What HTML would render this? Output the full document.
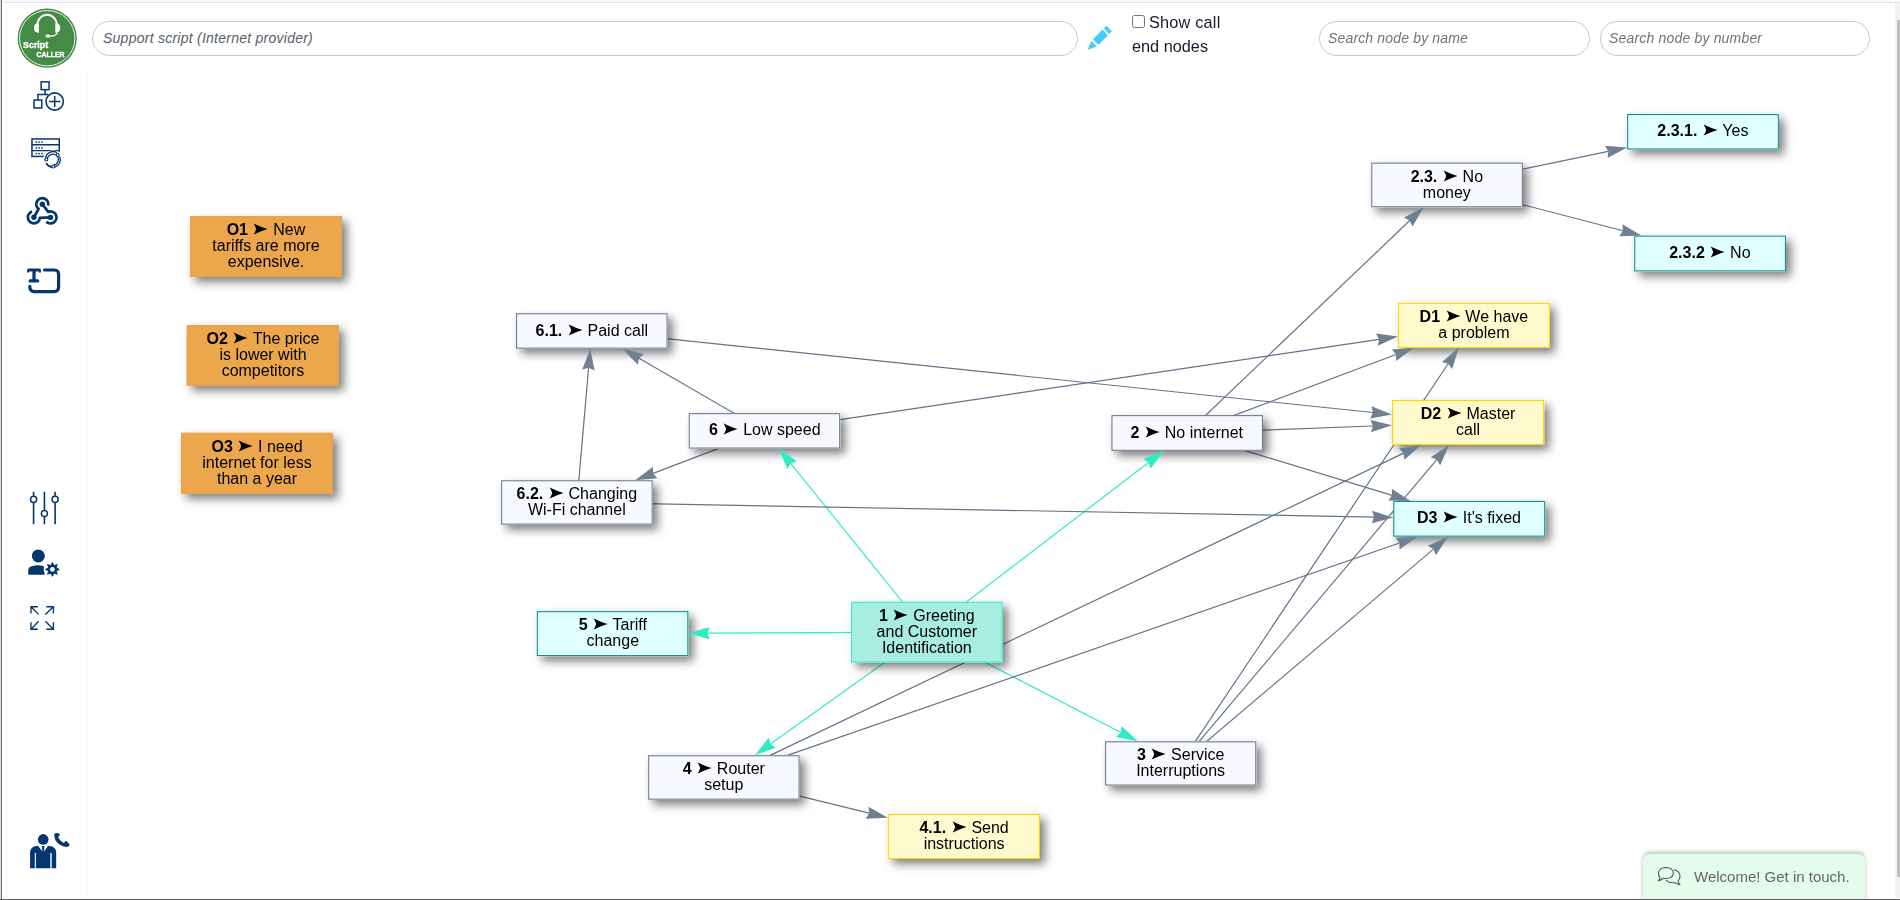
<!DOCTYPE html>
<html lang="en">
<head>
<meta charset="utf-8">
<title>Script Caller</title>
<style>
html,body{margin:0;padding:0;width:1900px;height:900px;overflow:hidden;background:#fff;font-family:"Liberation Sans",sans-serif;}
#frame{position:absolute;left:0;top:0;width:1900px;height:900px;overflow:hidden;background:#fff;}
#net{position:absolute;left:0;top:0;}
.lb{position:absolute;will-change:transform;text-align:center;font-size:16px;line-height:16px;color:#000;white-space:nowrap;font-family:"Liberation Sans",sans-serif;}
.lb b{font-weight:bold;}
.lb svg.g{display:inline-block;vertical-align:baseline;margin:0;position:relative;top:0.45px;left:0px;}
.lb svg.g path{fill:#000;}
/* window chrome */
#bt{position:absolute;left:0;top:0;width:1900px;height:2px;background:#fafaff;}
#bt2{position:absolute;left:0;top:2px;width:1900px;height:1px;background:#e1e3ef;}
#bl{position:absolute;left:0;top:0;width:2px;height:900px;background:linear-gradient(90deg,#dcdcde 0,#dcdcde 1px,#6e6e6e 1px,#6e6e6e 2px);}
#bb{position:absolute;left:0;top:899px;width:1900px;height:1px;background:#5e5e5e;}
#sbt{position:absolute;left:1895px;top:3px;width:5px;height:895px;background:#f1f1f1;}
#sbh{position:absolute;left:1897px;top:20px;width:3px;height:857px;background:#c1c1c1;}
#sideline{position:absolute;left:86px;top:70px;width:1px;height:828px;background:#f3f1f3;}
.inp{position:absolute;box-sizing:border-box;height:35px;border:1px solid #c9c9c9;border-radius:18px;background:#fff;font-style:italic;font-size:14px;color:#6c757d;line-height:33px;padding-left:8px;white-space:nowrap;overflow:hidden;}
#chk{position:absolute;left:1132px;top:15px;width:13px;height:13px;box-sizing:border-box;border:1px solid #767676;border-radius:2.5px;background:#fff;}
#chkt{position:absolute;left:1132px;top:10px;font-size:16.3px;line-height:24px;color:#1a1a2e;white-space:nowrap;}
#chat{position:absolute;left:1643px;top:852px;width:222px;height:60px;background:#e3fcec;border-radius:7px;box-shadow:0 0 4px rgba(0,0,0,.25);border-top:2px solid #c0ddcd;box-sizing:border-box;}
#chat span{will-change:transform;position:absolute;left:51px;top:14px;font-size:15px;line-height:18px;color:#666;white-space:nowrap;}
.ic{position:absolute;will-change:transform;}
</style>
</head>
<body>
<div id="frame">
<svg id="net" width="1900" height="900" viewBox="0 0 1900 900">
<defs><filter id="sh" x="-20%" y="-40%" width="150%" height="200%"><feDropShadow dx="5" dy="5" stdDeviation="5" flood-color="#000" flood-opacity="0.5"/></filter></defs>
<line x1="926.85" y1="632.15" x2="790.81" y2="463.52" stroke="#31ecc3" stroke-width="1.20"/>
<line x1="926.85" y1="632.15" x2="1148.58" y2="462.50" stroke="#31ecc3" stroke-width="1.20"/>
<line x1="926.85" y1="632.15" x2="707.57" y2="633.16" stroke="#31ecc3" stroke-width="1.20"/>
<line x1="926.85" y1="632.15" x2="770.52" y2="744.04" stroke="#31ecc3" stroke-width="1.20"/>
<line x1="926.85" y1="632.15" x2="1120.81" y2="732.49" stroke="#31ecc3" stroke-width="1.20"/>
<line x1="764.45" y1="430.85" x2="639.07" y2="358.30" stroke="#63738a" stroke-width="1.20"/>
<line x1="764.45" y1="430.85" x2="653.09" y2="473.36" stroke="#63738a" stroke-width="1.20"/>
<line x1="576.90" y1="502.45" x2="588.60" y2="367.80" stroke="#63738a" stroke-width="1.20"/>
<line x1="591.80" y1="330.95" x2="1372.93" y2="412.52" stroke="#63738a" stroke-width="1.20"/>
<line x1="764.45" y1="430.85" x2="1379.04" y2="339.41" stroke="#63738a" stroke-width="1.20"/>
<line x1="576.90" y1="502.45" x2="1374.03" y2="517.06" stroke="#63738a" stroke-width="1.20"/>
<line x1="1187.20" y1="432.95" x2="1409.76" y2="220.54" stroke="#63738a" stroke-width="1.20"/>
<line x1="1187.20" y1="432.95" x2="1396.03" y2="354.54" stroke="#63738a" stroke-width="1.20"/>
<line x1="1187.20" y1="432.95" x2="1372.84" y2="426.01" stroke="#63738a" stroke-width="1.20"/>
<line x1="1187.20" y1="432.95" x2="1392.06" y2="495.32" stroke="#63738a" stroke-width="1.20"/>
<line x1="1447.05" y1="184.95" x2="1608.33" y2="151.43" stroke="#63738a" stroke-width="1.20"/>
<line x1="1447.05" y1="184.95" x2="1622.86" y2="230.77" stroke="#63738a" stroke-width="1.20"/>
<line x1="723.85" y1="777.45" x2="869.18" y2="813.20" stroke="#63738a" stroke-width="1.20"/>
<line x1="723.85" y1="777.45" x2="1403.68" y2="453.15" stroke="#63738a" stroke-width="1.20"/>
<line x1="723.85" y1="777.45" x2="1399.51" y2="542.98" stroke="#63738a" stroke-width="1.20"/>
<line x1="1180.65" y1="763.45" x2="1448.18" y2="363.73" stroke="#63738a" stroke-width="1.20"/>
<line x1="1180.65" y1="763.45" x2="1436.77" y2="459.56" stroke="#63738a" stroke-width="1.20"/>
<line x1="1180.65" y1="763.45" x2="1433.47" y2="549.10" stroke="#63738a" stroke-width="1.20"/>
<rect x="190.00" y="216.00" width="152.00" height="61.00" fill="#eca74d" filter="url(#sh)"/>
<rect x="190.55" y="216.55" width="150.90" height="59.90" fill="#eca74d" stroke="#eba348" stroke-width="1.1"/>
<rect x="186.80" y="325.00" width="152.00" height="60.80" fill="#eca74d" filter="url(#sh)"/>
<rect x="187.35" y="325.55" width="150.90" height="59.70" fill="#eca74d" stroke="#eba348" stroke-width="1.1"/>
<rect x="181.00" y="432.80" width="152.00" height="61.00" fill="#eca74d" filter="url(#sh)"/>
<rect x="181.55" y="433.35" width="150.90" height="59.90" fill="#eca74d" stroke="#eba348" stroke-width="1.1"/>
<rect x="516.00" y="313.20" width="151.60" height="35.50" fill="#f8f8ff" filter="url(#sh)"/>
<rect x="516.55" y="313.75" width="150.50" height="34.40" fill="#f8f8ff" stroke="#708090" stroke-width="1.1"/>
<rect x="688.70" y="413.10" width="151.50" height="35.50" fill="#f8f8ff" filter="url(#sh)"/>
<rect x="689.25" y="413.65" width="150.40" height="34.40" fill="#f8f8ff" stroke="#708090" stroke-width="1.1"/>
<rect x="501.10" y="480.20" width="151.60" height="44.50" fill="#f8f8ff" filter="url(#sh)"/>
<rect x="501.65" y="480.75" width="150.50" height="43.40" fill="#f8f8ff" stroke="#708090" stroke-width="1.1"/>
<rect x="1111.40" y="415.05" width="151.60" height="35.80" fill="#f8f8ff" filter="url(#sh)"/>
<rect x="1111.95" y="415.60" width="150.50" height="34.70" fill="#f8f8ff" stroke="#708090" stroke-width="1.1"/>
<rect x="1398.00" y="302.80" width="151.80" height="45.00" fill="#fffacd" filter="url(#sh)"/>
<rect x="1398.55" y="303.35" width="150.70" height="43.90" fill="#fffacd" stroke="#ffd700" stroke-width="1.1"/>
<rect x="1392.00" y="400.00" width="152.10" height="44.90" fill="#fffacd" filter="url(#sh)"/>
<rect x="1392.55" y="400.55" width="151.00" height="43.80" fill="#fffacd" stroke="#ffd700" stroke-width="1.1"/>
<rect x="1393.20" y="500.90" width="152.00" height="35.80" fill="#e0ffff" filter="url(#sh)"/>
<rect x="1393.75" y="501.45" width="150.90" height="34.70" fill="#e0ffff" stroke="#149391" stroke-width="1.1"/>
<rect x="536.80" y="611.10" width="151.60" height="45.00" fill="#e0ffff" filter="url(#sh)"/>
<rect x="537.35" y="611.65" width="150.50" height="43.90" fill="#e0ffff" stroke="#149391" stroke-width="1.1"/>
<rect x="851.00" y="601.80" width="151.70" height="60.70" fill="#a7eee0" filter="url(#sh)"/>
<rect x="851.55" y="602.35" width="150.60" height="59.60" fill="#a7eee0" stroke="#3eecc8" stroke-width="1.1"/>
<rect x="648.10" y="755.20" width="151.50" height="44.50" fill="#f8f8ff" filter="url(#sh)"/>
<rect x="648.65" y="755.75" width="150.40" height="43.40" fill="#f8f8ff" stroke="#708090" stroke-width="1.1"/>
<rect x="1105.00" y="741.30" width="151.30" height="44.30" fill="#f8f8ff" filter="url(#sh)"/>
<rect x="1105.55" y="741.85" width="150.20" height="43.20" fill="#f8f8ff" stroke="#708090" stroke-width="1.1"/>
<rect x="887.80" y="814.00" width="152.20" height="45.00" fill="#fffacd" filter="url(#sh)"/>
<rect x="888.35" y="814.55" width="151.10" height="43.90" fill="#fffacd" stroke="#ffd700" stroke-width="1.1"/>
<rect x="1371.20" y="162.60" width="151.70" height="44.70" fill="#f8f8ff" filter="url(#sh)"/>
<rect x="1371.75" y="163.15" width="150.60" height="43.60" fill="#f8f8ff" stroke="#708090" stroke-width="1.1"/>
<rect x="1627.10" y="114.00" width="151.80" height="35.50" fill="#e0ffff" filter="url(#sh)"/>
<rect x="1627.65" y="114.55" width="150.70" height="34.40" fill="#e0ffff" stroke="#149391" stroke-width="1.1"/>
<rect x="1634.20" y="235.60" width="151.80" height="35.80" fill="#e0ffff" filter="url(#sh)"/>
<rect x="1634.75" y="236.15" width="150.70" height="34.70" fill="#e0ffff" stroke="#149391" stroke-width="1.1"/>
<polygon points="778.77,448.60 796.95,461.30 790.81,463.52 787.34,469.06" fill="#31ecc3"/>
<polygon points="1163.81,450.85 1150.64,468.70 1148.58,462.50 1143.14,458.89" fill="#31ecc3"/>
<polygon points="688.40,633.25 709.67,626.98 707.57,633.16 709.73,639.33" fill="#31ecc3"/>
<polygon points="754.94,755.20 768.66,737.78 770.52,744.04 775.85,747.83" fill="#31ecc3"/>
<polygon points="1137.83,741.30 1116.08,737.00 1120.81,732.49 1121.75,726.03" fill="#31ecc3"/>
<polygon points="622.48,348.70 644.01,354.02 639.07,358.30 637.82,364.71" fill="#708090"/>
<polygon points="635.18,480.20 652.88,466.83 653.09,473.36 657.28,478.37" fill="#708090"/>
<polygon points="590.26,348.70 594.57,370.45 588.60,367.80 582.26,369.39" fill="#708090"/>
<polygon points="1392.00,414.51 1370.17,418.44 1372.93,412.52 1371.46,406.15" fill="#708090"/>
<polygon points="1398.00,336.59 1377.84,345.84 1379.04,339.41 1376.02,333.62" fill="#708090"/>
<polygon points="1393.20,517.41 1371.79,523.19 1374.03,517.06 1372.02,510.84" fill="#708090"/>
<polygon points="1423.63,207.30 1412.49,226.47 1409.76,220.54 1403.96,217.54" fill="#708090"/>
<polygon points="1413.98,347.80 1396.21,361.07 1396.03,354.54 1391.86,349.50" fill="#708090"/>
<polygon points="1392.00,425.29 1370.95,432.26 1372.84,426.01 1370.48,419.92" fill="#708090"/>
<polygon points="1410.40,500.90 1388.23,500.61 1392.06,495.32 1391.82,488.79" fill="#708090"/>
<polygon points="1627.10,147.53 1607.50,157.91 1608.33,151.43 1604.99,145.81" fill="#708090"/>
<polygon points="1641.41,235.60 1619.24,236.21 1622.86,230.77 1622.36,224.25" fill="#708090"/>
<polygon points="887.80,817.78 865.64,818.69 869.18,813.20 868.59,806.69" fill="#708090"/>
<polygon points="1420.99,444.90 1404.42,459.65 1403.68,453.15 1399.10,448.50" fill="#708090"/>
<polygon points="1417.62,536.70 1399.52,549.52 1399.51,542.98 1395.47,537.85" fill="#708090"/>
<polygon points="1458.84,347.80 1452.13,368.94 1448.18,363.73 1441.86,362.07" fill="#708090"/>
<polygon points="1449.13,444.90 1440.13,465.17 1436.77,459.56 1430.68,457.21" fill="#708090"/>
<polygon points="1448.09,536.70 1435.84,555.19 1433.47,549.10 1427.85,545.76" fill="#708090"/>
</svg>
<div class="lb" style="left:170.00px;top:222.10px;width:192.00px"><b>O1</b> <svg class="g" viewBox="0 0 16.4 12" width="16.4" height="12"><path d="M1.6 0.4 Q8.3 3.7 15.5 5.9 Q8.3 8.1 1.6 11.4 Q3.5 8.6 4.2 5.9 Q3.5 3.2 1.6 0.4 Z"/></svg> New<br>tariffs are more<br>expensive.</div>
<div class="lb" style="left:166.80px;top:331.00px;width:192.00px"><b>O2</b> <svg class="g" viewBox="0 0 16.4 12" width="16.4" height="12"><path d="M1.6 0.4 Q8.3 3.7 15.5 5.9 Q8.3 8.1 1.6 11.4 Q3.5 8.6 4.2 5.9 Q3.5 3.2 1.6 0.4 Z"/></svg> The price<br>is lower with<br>competitors</div>
<div class="lb" style="left:161.00px;top:438.90px;width:192.00px"><b>O3</b> <svg class="g" viewBox="0 0 16.4 12" width="16.4" height="12"><path d="M1.6 0.4 Q8.3 3.7 15.5 5.9 Q8.3 8.1 1.6 11.4 Q3.5 8.6 4.2 5.9 Q3.5 3.2 1.6 0.4 Z"/></svg> I need<br>internet for less<br>than a year</div>
<div class="lb" style="left:496.00px;top:322.55px;width:191.60px"><b>6.1.</b> <svg class="g" viewBox="0 0 16.4 12" width="16.4" height="12"><path d="M1.6 0.4 Q8.3 3.7 15.5 5.9 Q8.3 8.1 1.6 11.4 Q3.5 8.6 4.2 5.9 Q3.5 3.2 1.6 0.4 Z"/></svg> Paid call</div>
<div class="lb" style="left:668.70px;top:422.45px;width:191.50px"><b>6</b> <svg class="g" viewBox="0 0 16.4 12" width="16.4" height="12"><path d="M1.6 0.4 Q8.3 3.7 15.5 5.9 Q8.3 8.1 1.6 11.4 Q3.5 8.6 4.2 5.9 Q3.5 3.2 1.6 0.4 Z"/></svg> Low speed</div>
<div class="lb" style="left:481.10px;top:486.05px;width:191.60px"><b>6.2.</b> <svg class="g" viewBox="0 0 16.4 12" width="16.4" height="12"><path d="M1.6 0.4 Q8.3 3.7 15.5 5.9 Q8.3 8.1 1.6 11.4 Q3.5 8.6 4.2 5.9 Q3.5 3.2 1.6 0.4 Z"/></svg> Changing<br>Wi-Fi channel</div>
<div class="lb" style="left:1091.40px;top:424.55px;width:191.60px"><b>2</b> <svg class="g" viewBox="0 0 16.4 12" width="16.4" height="12"><path d="M1.6 0.4 Q8.3 3.7 15.5 5.9 Q8.3 8.1 1.6 11.4 Q3.5 8.6 4.2 5.9 Q3.5 3.2 1.6 0.4 Z"/></svg> No internet</div>
<div class="lb" style="left:1378.00px;top:308.90px;width:191.80px"><b>D1</b> <svg class="g" viewBox="0 0 16.4 12" width="16.4" height="12"><path d="M1.6 0.4 Q8.3 3.7 15.5 5.9 Q8.3 8.1 1.6 11.4 Q3.5 8.6 4.2 5.9 Q3.5 3.2 1.6 0.4 Z"/></svg> We have<br>a problem</div>
<div class="lb" style="left:1372.00px;top:406.05px;width:192.10px"><b>D2</b> <svg class="g" viewBox="0 0 16.4 12" width="16.4" height="12"><path d="M1.6 0.4 Q8.3 3.7 15.5 5.9 Q8.3 8.1 1.6 11.4 Q3.5 8.6 4.2 5.9 Q3.5 3.2 1.6 0.4 Z"/></svg> Master<br>call</div>
<div class="lb" style="left:1373.20px;top:510.40px;width:192.00px"><b>D3</b> <svg class="g" viewBox="0 0 16.4 12" width="16.4" height="12"><path d="M1.6 0.4 Q8.3 3.7 15.5 5.9 Q8.3 8.1 1.6 11.4 Q3.5 8.6 4.2 5.9 Q3.5 3.2 1.6 0.4 Z"/></svg> It's fixed</div>
<div class="lb" style="left:516.80px;top:617.20px;width:191.60px"><b>5</b> <svg class="g" viewBox="0 0 16.4 12" width="16.4" height="12"><path d="M1.6 0.4 Q8.3 3.7 15.5 5.9 Q8.3 8.1 1.6 11.4 Q3.5 8.6 4.2 5.9 Q3.5 3.2 1.6 0.4 Z"/></svg> Tariff<br>change</div>
<div class="lb" style="left:831.00px;top:607.75px;width:191.70px"><b>1</b> <svg class="g" viewBox="0 0 16.4 12" width="16.4" height="12"><path d="M1.6 0.4 Q8.3 3.7 15.5 5.9 Q8.3 8.1 1.6 11.4 Q3.5 8.6 4.2 5.9 Q3.5 3.2 1.6 0.4 Z"/></svg> Greeting<br>and Customer<br>Identification</div>
<div class="lb" style="left:628.10px;top:761.05px;width:191.50px"><b>4</b> <svg class="g" viewBox="0 0 16.4 12" width="16.4" height="12"><path d="M1.6 0.4 Q8.3 3.7 15.5 5.9 Q8.3 8.1 1.6 11.4 Q3.5 8.6 4.2 5.9 Q3.5 3.2 1.6 0.4 Z"/></svg> Router<br>setup</div>
<div class="lb" style="left:1085.00px;top:747.05px;width:191.30px"><b>3</b> <svg class="g" viewBox="0 0 16.4 12" width="16.4" height="12"><path d="M1.6 0.4 Q8.3 3.7 15.5 5.9 Q8.3 8.1 1.6 11.4 Q3.5 8.6 4.2 5.9 Q3.5 3.2 1.6 0.4 Z"/></svg> Service<br>Interruptions</div>
<div class="lb" style="left:867.80px;top:820.10px;width:192.20px"><b>4.1.</b> <svg class="g" viewBox="0 0 16.4 12" width="16.4" height="12"><path d="M1.6 0.4 Q8.3 3.7 15.5 5.9 Q8.3 8.1 1.6 11.4 Q3.5 8.6 4.2 5.9 Q3.5 3.2 1.6 0.4 Z"/></svg> Send<br>instructions</div>
<div class="lb" style="left:1351.20px;top:168.55px;width:191.70px"><b>2.3.</b> <svg class="g" viewBox="0 0 16.4 12" width="16.4" height="12"><path d="M1.6 0.4 Q8.3 3.7 15.5 5.9 Q8.3 8.1 1.6 11.4 Q3.5 8.6 4.2 5.9 Q3.5 3.2 1.6 0.4 Z"/></svg> No<br>money</div>
<div class="lb" style="left:1607.10px;top:123.35px;width:191.80px"><b>2.3.1.</b> <svg class="g" viewBox="0 0 16.4 12" width="16.4" height="12"><path d="M1.6 0.4 Q8.3 3.7 15.5 5.9 Q8.3 8.1 1.6 11.4 Q3.5 8.6 4.2 5.9 Q3.5 3.2 1.6 0.4 Z"/></svg> Yes</div>
<div class="lb" style="left:1614.20px;top:245.10px;width:191.80px"><b>2.3.2</b> <svg class="g" viewBox="0 0 16.4 12" width="16.4" height="12"><path d="M1.6 0.4 Q8.3 3.7 15.5 5.9 Q8.3 8.1 1.6 11.4 Q3.5 8.6 4.2 5.9 Q3.5 3.2 1.6 0.4 Z"/></svg> No</div>
<div id="sideline"></div>
<svg class="ic" style="left:0;top:0" width="100" height="900" viewBox="0 0 100 900">
<g>
<circle cx="47.2" cy="38.2" r="29.6" fill="#458a45"/>
<circle cx="47.2" cy="38.2" r="27.7" fill="none" stroke="#fff" stroke-width="0.9"/>
<path d="M37.3 25.2 A9.8 10.4 0 0 1 56.9 25.2" fill="none" stroke="#fff" stroke-width="1.9"/>
<path d="M38.9 23.2 L38.9 32.7 L37.9 32.7 A4 4.75 0 0 1 37.9 23.2 Z" fill="#fff"/>
<path d="M55.3 23.2 L55.3 32.7 L56.3 32.7 A4 4.75 0 0 0 56.3 23.2 Z" fill="#fff"/>
<path d="M57.2 32.5 Q56.6 36 50.5 36.1" fill="none" stroke="#fff" stroke-width="1.4"/>
<rect x="45.5" y="34.4" width="5" height="3.2" rx="1.5" fill="#fff"/>
<text x="23.1" y="48.3" font-family="Liberation Sans, sans-serif" font-weight="bold" font-size="8.4" fill="#fff" textLength="25" lengthAdjust="spacingAndGlyphs" stroke="#fff" stroke-width="0.35">Script</text>
<text x="36.4" y="57.4" font-family="Liberation Sans, sans-serif" font-weight="bold" font-size="8" fill="#fff" textLength="28.2" lengthAdjust="spacingAndGlyphs" stroke="#fff" stroke-width="0.4">CALLER</text>
</g>
<g fill="none" stroke="#05376e" stroke-width="1.5">
<rect x="41.15" y="81.85" width="7.9" height="7.8"/>
<rect x="34.05" y="100.05" width="7.7" height="7.9"/>
<path d="M45.1 89.6 V94.4 M37.9 100 V94.4 H48"/>
<circle cx="54.7" cy="101.5" r="8.65" fill="#fff" stroke-width="1.6"/>
<path d="M49.1 101.5 H60.4 M54.7 95.9 V107" stroke-width="1.5"/>
</g>
<g fill="none" stroke="#05376e" stroke-width="1.5">
<rect x="31.95" y="138.95" width="27.3" height="17.5"/>
<path d="M31.95 144.8 H59.2 M31.95 150.6 H59.2" stroke-width="1.4"/>
<rect x="35.4" y="141.4" width="1.6" height="1.4" fill="#05376e" stroke="none"/>
<rect x="38.3" y="141.4" width="1.6" height="1.4" fill="#05376e" stroke="none"/>
<rect x="41.2" y="141.4" width="1.6" height="1.4" fill="#05376e" stroke="none"/>
<rect x="35.4" y="147.2" width="1.6" height="1.4" fill="#05376e" stroke="none"/>
<rect x="38.3" y="147.2" width="1.6" height="1.4" fill="#05376e" stroke="none"/>
<rect x="41.2" y="147.2" width="1.6" height="1.4" fill="#05376e" stroke="none"/>
<rect x="35.4" y="152.9" width="1.6" height="1.4" fill="#05376e" stroke="none"/>
<rect x="38.3" y="152.9" width="1.6" height="1.4" fill="#05376e" stroke="none"/>
<rect x="41.2" y="152.9" width="1.6" height="1.4" fill="#05376e" stroke="none"/>
<circle cx="52.8" cy="160.2" r="9.9" fill="#fff" stroke="none"/>
<rect x="57" y="151.8" width="4" height="6" fill="#fff" stroke="none"/>
<path d="M45.6 158.6 A7.6 7.6 0 0 1 57 152.6" stroke-width="1.3"/>
<path d="M47.4 159.6 A5.6 5.6 0 0 1 56.6 155.4" stroke-width="1.2"/>
<path d="M59.6 156.6 A7.6 7.6 0 0 1 54.6 167.2" stroke-width="1.3"/>
<path d="M57.6 156.4 A5.8 5.8 0 0 1 53.4 165.2" stroke-width="1.3"/>
<path d="M52 167.2 A7.6 7.6 0 0 1 46.2 163.2" stroke-width="1.7"/>
<circle cx="46.3" cy="159.5" r="1.5" fill="#fff" stroke-width="1.2"/>
<circle cx="57.7" cy="155" r="1.5" fill="#fff" stroke-width="1.2"/>
<circle cx="53.3" cy="166.5" r="1.5" fill="#fff" stroke-width="1.2"/>
</g>
<g fill="none" stroke="#05376e" stroke-width="2.8" stroke-linejoin="round">
<path d="M48.17 205.45 A6.00 6.00 0 1 0 38.61 208.93 L33.90 217.30"/>
<path d="M32.05 211.59 A6.00 6.00 0 1 0 39.87 217.93 L50.50 217.40"/>
<path d="M46.33 221.72 A6.00 6.00 0 1 0 48.25 211.84 L42.30 204.20"/>
<circle cx="42.30" cy="204.20" r="2.7" fill="#05376e" stroke="none"/>
<circle cx="33.90" cy="217.30" r="2.7" fill="#05376e" stroke="none"/>
<circle cx="50.50" cy="217.40" r="2.7" fill="#05376e" stroke="none"/>
</g>
<g fill="none" stroke="#05376e" stroke-width="3.2" stroke-linecap="round" stroke-linejoin="round">
<path d="M44.6 270 H54.6 A4 4 0 0 1 58.6 274 V287.6 A4 4 0 0 1 54.6 291.6 H33.9 A4 4 0 0 1 29.9 287.6 V286.4"/>
<path d="M28.7 270 H39.3 M34 270 V280.9 M30.1 280.9 H37.7"/>
<path d="M28.1 270 V272.6 M39.9 270 V272.6" stroke-width="2" stroke-linecap="butt"/>
</g>
<g fill="none" stroke="#05376e" stroke-width="1.6">
<path d="M33.6 491.8 V524.2 M44.4 491.8 V524.2 M55.1 491.8 V524.2"/>
<circle cx="33.6" cy="499.4" r="3.05" fill="#fff" stroke-width="1.5"/>
<circle cx="44.4" cy="513.6" r="3.05" fill="#fff" stroke-width="1.5"/>
<circle cx="55.1" cy="499.4" r="3.05" fill="#fff" stroke-width="1.5"/>
</g>
<g fill="#05376e" stroke="none">
<circle cx="38.3" cy="555.9" r="6.5"/>
<path d="M28.3 574.8 V569.2 Q28.6 567.2 31.5 566.2 Q35 565.2 38.5 565.3 L43.8 565.9 Q43.2 570.5 45 574.8 Z"/>
<polygon points="52.40,562.50 53.93,565.70 57.28,564.52 56.10,567.87 59.30,569.40 56.10,570.93 57.28,574.28 53.93,573.10 52.40,576.30 50.87,573.10 47.52,574.28 48.70,570.93 45.50,569.40 48.70,567.87 47.52,564.52 50.87,565.70" stroke="#05376e" stroke-width="0.9" stroke-linejoin="round"/>
<circle cx="52.4" cy="569.4" r="4.7"/>
<circle cx="52.4" cy="569.4" r="2.4" fill="#fff"/>
</g>
<g fill="none" stroke="#05376e" stroke-width="1.35">
<path d="M37.9 606.7 H30.95 V613.6 M31 606.7 L38.6 614.4"/>
<path d="M46.3 606.7 H53.45 V613.6 M53.4 606.7 L45.4 614.4"/>
<path d="M37.9 629.2 H30.95 V622.2 M31 629.2 L38.6 621.3"/>
<path d="M46.3 629.2 H53.45 V622.2 M53.4 629.2 L45.4 621.3"/>
</g>
<g fill="#05376e" stroke="none">
<circle cx="43.2" cy="839.4" r="5.3"/>
<path d="M30.1 868.3 V852.5 A6.6 6.6 0 0 1 36.7 845.9 H38.2 L42.4 851.6 L41.9 846 H44.4 L44 851.6 L48 845.9 H49.6 A6.6 6.6 0 0 1 56.2 852.5 V868.3 Z"/>
<rect x="34.8" y="853" width="1.1" height="15.5" fill="#fff"/>
<rect x="50.3" y="853" width="1.4" height="15.5" fill="#fff"/>
<path d="M54.3 833.9 Q56.5 832.4 59 833.6 Q60.5 834.8 59.2 836.2 L58 836.6 Q59.5 841 64 842.9 L65.2 841.3 Q66.2 840.6 67.2 841.8 L69.6 844.6 Q69.4 846.8 66.4 847 Q61 846.6 57.2 842.6 Q54 838.8 54.3 833.9 Z"/>
</g>
</svg>
<svg class="ic" style="left:1080px;top:18px" width="40" height="40" viewBox="1080 18 40 40"><g fill="#43cefd">
<polygon points="1106.4,25.8 1112,31.3 1109.1,34 1103.8,28.4"/>
<polygon points="1102.4,29.8 1108,35.3 1098.4,44.9 1092.9,39.3"/>
<polygon points="1091.3,40.9 1097.1,46.4 1087.8,49.8"/>
</g></svg>
<svg class="ic" style="left:1650px;top:860px;z-index:5" width="40" height="30" viewBox="1650 860 40 30"><g fill="none" stroke="#555" stroke-width="1.1" stroke-linejoin="round">
<path d="M1674 869.8 Q1680.2 871.2 1680 877 Q1679.8 879.6 1678 880.8 Q1678.4 883.4 1680 884.6 Q1677 884.4 1674.8 882.6 Q1668.6 883.6 1666 880"/>
<path d="M1660.1 877.6 Q1658.2 875.8 1658.4 873 Q1659 867.6 1665.9 867.5 Q1672.8 867.6 1673.4 873 Q1673 878.4 1665.9 878.5 Q1664.6 878.5 1663.6 878.3 Q1661 880.4 1658.2 880.8 Q1659.8 879.4 1660.1 877.6 Z"/>
</g></svg>
<div class="inp" style="left:92px;top:21px;width:986px;letter-spacing:.25px;color:#565e6a"><span style="margin-left:2px">Support script (Internet provider)</span></div>
<div class="inp" style="left:1319px;top:21px;width:271px;letter-spacing:.16px">Search node by name</div>
<div class="inp" style="left:1600px;top:21px;width:270px;letter-spacing:.18px">Search node by number</div>
<div id="chk"></div>
<div id="chkt"><span style="margin-left:17px;letter-spacing:.2px">Show call</span><br>end nodes</div>
<div id="chat"><span>Welcome! Get in touch.</span></div>
<div id="sbt"></div><div id="sbh"></div>
<div id="bt"></div><div id="bt2"></div><div id="bl"></div><div id="bb"></div>
</div>
</body>
</html>
